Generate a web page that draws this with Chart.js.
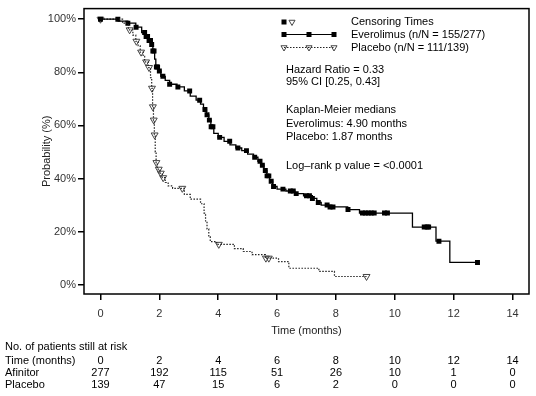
<!DOCTYPE html>
<html>
<head>
<meta charset="utf-8">
<script src="https://cdn.jsdelivr.net/npm/chart.js@4.4.1/dist/chart.umd.min.js"></script>
<style>
html, body { margin: 0; padding: 0; background: #fff; }
#wrap { position: relative; width: 536px; height: 396px; }
</style>
</head>
<body>
<div id="wrap"><canvas id="km" width="536" height="396"></canvas></div>
<script>
// Everolimus (Afinitor) arm - KM steps
const evTime = [0, 0.6, 0.93, 1.2, 1.4, 1.55, 1.65, 1.72, 1.78, 1.84, 1.88, 1.95, 2.05, 2.2, 2.35, 2.6, 2.85, 3.05, 3.25, 3.4,
    3.5, 3.6, 3.68, 3.75, 3.85, 4.0, 4.2, 4.4, 4.6, 4.8, 5.0, 5.2, 5.35, 5.45, 5.55, 5.65, 5.75, 5.85, 6.0, 6.3,
    6.6, 6.9, 7.2, 7.35, 7.5, 7.8, 8.4, 8.8, 10.6, 11.4, 11.87, 12.81];
const evSurv = [100, 99.3, 98.5, 97, 95, 93.5, 92, 90.5, 88, 85, 82, 80.5, 78.5, 77, 75.5, 74.5, 73, 71, 69.5, 68,
    66, 64, 62, 59.5, 57, 55.5, 54, 52.7, 51.5, 50.5, 49.2, 48, 46.5, 45, 43, 41, 39, 37, 36, 35.3,
    34.3, 33.5, 32.5, 31, 30, 29.3, 28.3, 27, 21.7, 16.4, 8.4, 8.4];
const evCensTime = [0, 0.59, 0.93, 1.21, 1.5, 1.55, 1.6, 1.65, 1.7, 1.74, 1.78, 1.82, 1.9, 1.94, 2.0, 2.12, 2.35, 2.63, 3.03, 3.37,
    3.55, 3.62, 3.7, 3.76, 3.82, 4.05, 4.39, 4.67, 4.96, 5.24, 5.42, 5.5, 5.6, 5.66, 5.72, 5.8, 5.88, 6.2, 6.45, 6.55,
    6.65, 7.0, 7.1, 7.2, 7.4, 7.7, 7.8, 7.9, 8.41, 8.9, 9.0, 9.1, 9.2, 9.3, 9.65, 9.75, 11.0, 11.1, 11.15, 11.5, 12.81];

// Placebo arm
const plTime = [0, 0.75, 0.95, 1.1, 1.2, 1.28, 1.35, 1.45, 1.5, 1.62, 1.7, 1.74, 1.77, 1.8, 1.83, 1.86, 1.89, 1.93, 2.02, 2.1,
    2.2, 2.3, 2.45, 2.85, 3.05, 3.4, 3.52, 3.57, 3.62, 3.68, 3.73, 3.95, 4.55, 4.85, 5.15, 5.6, 6.05, 6.4, 7.42, 7.95, 9.04];
const plSurv = [100, 98.5, 96, 94, 91.7, 90, 87.6, 86, 83.9, 81.8, 78, 74, 67, 62, 56.4, 50, 46, 43.5, 42, 40.3,
    38.5, 37.2, 36.3, 34, 32.2, 30.5, 27, 24, 21, 18, 16.2, 15.2, 13.6, 12.5, 11.3, 10, 8.7, 6.2, 5, 3.1, 3.1];
const plCensTime = [0, 0.99, 1.22, 1.38, 1.55, 1.65, 1.75, 1.78, 1.81, 1.84, 1.9, 1.98, 2.05, 2.13, 2.78, 4.02, 5.62, 5.72, 9.04];

const xTicks = [0, 2, 4, 6, 8, 10, 12, 14];
const yTicks = [0, 20, 40, 60, 80, 100];

// No. of patients still at risk
const riskTimes = [0, 2, 4, 6, 8, 10, 12, 14];
const riskAfinitor = [277, 192, 115, 51, 26, 10, 1, 0];
const riskPlacebo = [139, 47, 15, 6, 2, 0, 0, 0];

const FONT = '"Liberation Sans", Arial, sans-serif';
Chart.defaults.font.family = FONT;
Chart.defaults.font.size = 11;

// value of a step curve at time t (to sit censor marks on the curve)
function survAt(times, surv, t) {
    let s = surv[0];
    for (let i = 0; i < times.length; i++) {
        if (times[i] <= t + 1e-9) s = surv[i];
    }
    return s;
}

const toPts = (ts, ss) => ts.map((t, i) => ({ x: t, y: ss[i] }));

function square(ctx, x, y, half) {
    ctx.fillStyle = '#000';
    ctx.fillRect(x - half, y - half, half * 2, half * 2);
}
function triangle(ctx, x, y, r) {
    ctx.beginPath();
    ctx.moveTo(x - r * 0.87, y - r * 0.5);
    ctx.lineTo(x + r * 0.87, y - r * 0.5);
    ctx.lineTo(x, y + r);
    ctx.closePath();
    ctx.strokeStyle = '#444';
    ctx.lineWidth = 1;
    ctx.stroke();
}

const kmExtras = {
    id: 'kmExtras',
    afterDraw(chart) {
        const ctx = chart.ctx;
        const a = chart.chartArea;
        const xs = chart.scales.x;
        ctx.save();

        // frame
        ctx.strokeStyle = '#000';
        ctx.lineWidth = 1.5;
        ctx.strokeRect(a.left, a.top, a.right - a.left, a.bottom - a.top);

        ctx.font = '11px ' + FONT;
        ctx.textBaseline = 'middle';

        // legend
        square(ctx, 284, 22, 2.5);
        triangle(ctx, 292, 22, 3.5);
        ctx.strokeStyle = '#000';
        ctx.lineWidth = 1.2;
        ctx.beginPath(); ctx.moveTo(284, 34.5); ctx.lineTo(334, 34.5); ctx.stroke();
        [284, 309, 334].forEach(x => square(ctx, x, 34.5, 2.5));
        ctx.setLineDash([1.5, 1.5]);
        ctx.strokeStyle = '#222';
        ctx.beginPath(); ctx.moveTo(284, 47.5); ctx.lineTo(334, 47.5); ctx.stroke();
        ctx.setLineDash([]);
        [284, 309, 334].forEach(x => triangle(ctx, x, 47.5, 3.5));

        ctx.fillStyle = '#000';
        ctx.textAlign = 'left';
        ctx.fillText('Censoring Times', 351, 22);
        ctx.fillText('Everolimus (n/N = 155/277)', 351, 34.5);
        ctx.fillText('Placebo (n/N = 111/139)', 351, 47.5);

        ctx.fillText('Hazard Ratio = 0.33', 286, 70);
        ctx.fillText('95% CI [0.25, 0.43]', 286, 82);
        ctx.fillText('Kaplan-Meier medians', 286, 110);
        ctx.fillText('Everolimus: 4.90 months', 286, 124);
        ctx.fillText('Placebo: 1.87 months', 286, 137);
        ctx.fillText('Log\u2013rank p value = <0.0001', 286, 166);

        // axis titles
        ctx.textAlign = 'center';
        ctx.fillStyle = '#222';
        ctx.fillText('Time (months)', (a.left + a.right) / 2, 331);
        ctx.save();
        ctx.translate(47, (a.top + a.bottom) / 2);
        ctx.rotate(-Math.PI / 2);
        ctx.fillText('Probability (%)', 0, 0);
        ctx.restore();

        // at-risk table
        ctx.fillStyle = '#000';
        ctx.textAlign = 'left';
        ctx.fillText('No. of patients still at risk', 5, 347);
        ctx.fillText('Time (months)', 5, 361);
        ctx.fillText('Afinitor', 5, 373);
        ctx.fillText('Placebo', 5, 385);
        ctx.textAlign = 'center';
        riskTimes.forEach((t, i) => {
            const px = xs.getPixelForValue(t);
            ctx.fillText(String(t), px, 361);
            ctx.fillText(String(riskAfinitor[i]), px, 373);
            ctx.fillText(String(riskPlacebo[i]), px, 385);
        });
        ctx.restore();
    }
};

new Chart(document.getElementById('km'), {
    type: 'line',
    data: {
        datasets: [
            {
                label: 'Everolimus',
                data: toPts(evTime, evSurv),
                stepped: 'before',
                borderColor: '#000',
                borderWidth: 1.3,
                pointRadius: 0,
                fill: false
            },
            {
                label: 'Placebo',
                data: toPts(plTime, plSurv),
                stepped: 'before',
                borderColor: '#222',
                borderWidth: 1.2,
                borderDash: [1.5, 1.5],
                pointRadius: 0,
                fill: false
            },
            {
                label: 'Everolimus censored',
                data: evCensTime.map(t => ({ x: t, y: survAt(evTime, evSurv, t) })),
                showLine: false,
                pointStyle: 'rect',
                pointRadius: 3.5,
                pointBackgroundColor: '#000',
                pointBorderColor: '#000',
                pointBorderWidth: 0
            },
            {
                label: 'Placebo censored',
                data: plCensTime.map(t => ({ x: t, y: survAt(plTime, plSurv, t) })),
                showLine: false,
                pointStyle: 'triangle',
                pointRotation: 180,
                pointRadius: 4,
                pointBackgroundColor: 'rgba(255,255,255,0)',
                pointBorderColor: '#444',
                pointBorderWidth: 1
            }
        ]
    },
    options: {
        responsive: false,
        animation: false,
        devicePixelRatio: 1,
        layout: { padding: { left: 0, top: 5, right: 7, bottom: 0 } },
        plugins: { legend: { display: false }, tooltip: { enabled: false } },
        scales: {
            x: {
                type: 'linear',
                min: -0.56,
                max: 14.56,
                afterBuildTicks: s => { s.ticks = xTicks.map(v => ({ value: v })); },
                afterFit: s => { s.height = 102; },
                ticks: { color: '#333', padding: 7, maxRotation: 0, autoSkip: false },
                grid: { drawOnChartArea: false, drawTicks: true, tickLength: 6, color: '#000', lineWidth: 1.5 },
                border: { display: false }
            },
            y: {
                type: 'linear',
                min: -3.5,
                max: 104,
                afterBuildTicks: s => { s.ticks = yTicks.map(v => ({ value: v })); },
                afterFit: s => { s.width = 84; },
                ticks: { color: '#333', padding: 2, callback: v => v + '%' },
                grid: { drawOnChartArea: false, drawTicks: true, tickLength: 6, color: '#000', lineWidth: 1.5 },
                border: { display: false }
            }
        }
    },
    plugins: [kmExtras]
});
</script>
</body>
</html>
